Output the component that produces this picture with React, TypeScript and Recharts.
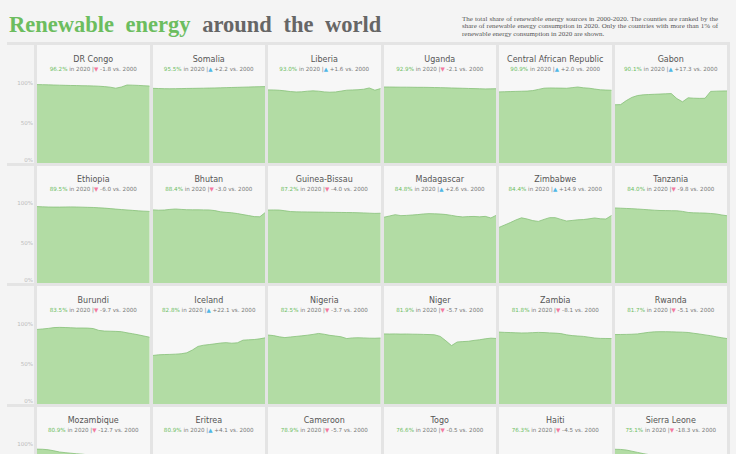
// Small multiples: renewable share of energy consumption 2000–2020, one
// area chart per country, laid out on a fixed 6-column grid.

import { Area, AreaChart, XAxis, YAxis } from "recharts";

const years = [
  2000, 2001, 2002, 2003, 2004, 2005, 2006, 2007, 2008, 2009, 2010,
  2011, 2012, 2013, 2014, 2015, 2016, 2017, 2018, 2019, 2020,
];

const countries = [
  "DR Congo", "Somalia", "Liberia", "Uganda", "Central African Republic", "Gabon",
  "Ethiopia", "Bhutan", "Guinea-Bissau", "Madagascar", "Zimbabwe", "Tanzania",
  "Burundi", "Iceland", "Nigeria", "Niger", "Zambia", "Rwanda",
  "Mozambique", "Eritrea", "Cameroon", "Togo", "Haiti", "Sierra Leone",
];

const drCongo = [98.0, 97.9, 97.7, 97.5, 97.3, 97.1, 96.9, 96.8, 96.6, 96.5, 96.3, 96.0, 95.5, 94.8, 93.5, 95.0, 97.5, 97.3, 97.0, 96.6, 96.2];
const somalia = [93.3, 93.1, 92.9, 92.8, 92.9, 93.0, 93.2, 93.3, 93.4, 93.5, 93.7, 93.8, 94.0, 94.2, 94.4, 94.6, 94.8, 95.0, 95.2, 95.4, 95.5];
const liberia = [91.4, 91.3, 90.9, 90.2, 89.3, 88.8, 89.0, 89.8, 90.2, 89.8, 88.9, 88.5, 88.8, 89.9, 91.0, 91.3, 91.6, 92.2, 93.8, 91.0, 93.0];
const uganda = [95.0, 95.0, 94.9, 94.8, 94.8, 94.7, 94.6, 94.6, 94.5, 94.3, 94.2, 94.0, 93.8, 93.6, 93.4, 93.2, 93.0, 92.8, 92.6, 92.7, 92.9];
const car = [88.9, 89.1, 89.3, 89.5, 89.7, 89.9, 90.5, 92.0, 93.5, 93.8, 93.7, 93.6, 93.4, 94.2, 95.0, 94.0, 93.5, 92.5, 91.5, 91.2, 90.9];
const gabon = [72.8, 73.0, 78.0, 82.0, 84.3, 85.2, 85.6, 85.9, 86.2, 86.5, 86.8, 80.5, 76.5, 81.5, 81.0, 80.8, 80.9, 89.5, 89.8, 90.0, 90.1];
const ethiopia = [95.5, 95.2, 95.0, 94.9, 94.9, 95.0, 95.1, 95.0, 94.8, 94.6, 94.4, 94.0, 93.6, 93.0, 92.4, 91.8, 91.3, 90.8, 90.2, 89.8, 89.5];
const bhutan = [91.4, 91.0, 91.2, 92.0, 92.5, 92.0, 91.6, 91.5, 91.5, 91.4, 91.3, 90.5, 89.0, 88.3, 87.8, 86.8, 85.5, 84.3, 83.0, 82.8, 88.4];
const guineaBissau = [91.2, 91.3, 91.2, 90.3, 89.3, 89.0, 88.9, 88.8, 88.7, 88.6, 88.5, 88.4, 88.3, 88.2, 88.1, 88.0, 87.8, 87.6, 87.3, 87.0, 87.2];
const madagascar = [82.2, 83.8, 85.4, 84.2, 84.5, 85.0, 85.5, 86.3, 86.7, 86.5, 86.2, 85.6, 84.5, 83.3, 82.6, 83.0, 83.2, 82.7, 83.3, 81.3, 84.8];
const zimbabwe = [69.5, 72.5, 75.5, 78.8, 81.5, 80.0, 78.0, 77.0, 79.5, 81.7, 81.7, 79.5, 77.5, 78.2, 79.0, 79.3, 80.2, 81.3, 80.3, 80.0, 84.4];
const tanzania = [93.8, 93.5, 93.2, 92.9, 92.5, 92.0, 91.5, 91.0, 90.6, 90.5, 90.4, 90.3, 89.5, 88.2, 87.7, 87.6, 87.4, 86.9, 86.3, 85.0, 84.0];
const burundi = [93.2, 93.8, 94.5, 95.5, 95.8, 95.6, 95.3, 95.0, 95.0, 94.9, 94.3, 92.0, 91.2, 91.0, 90.8, 90.4, 89.0, 87.8, 86.5, 85.0, 83.5];
const iceland = [60.7, 61.5, 61.8, 62.0, 62.3, 62.8, 64.0, 67.5, 72.0, 73.5, 74.3, 75.2, 76.2, 76.7, 76.0, 76.5, 79.8, 80.2, 80.6, 81.5, 82.8];
const nigeria = [86.2, 85.5, 84.0, 83.0, 83.8, 84.5, 85.2, 86.0, 87.0, 88.2, 87.2, 85.8, 85.0, 84.0, 81.8, 82.6, 82.8, 82.6, 82.3, 82.2, 82.5];
const niger = [87.6, 87.5, 87.6, 87.4, 87.5, 87.3, 87.2, 87.0, 86.8, 86.5, 84.5, 79.0, 73.0, 77.5, 78.0, 78.4, 79.5, 80.3, 81.5, 82.3, 81.9];
const zambia = [89.9, 89.5, 89.3, 89.0, 88.8, 88.9, 89.2, 89.5, 89.3, 88.9, 88.6, 88.0, 86.5, 85.5, 85.0, 84.5, 83.5, 82.5, 82.0, 81.9, 81.8];
const rwanda = [86.8, 86.9, 87.0, 87.2, 87.6, 88.6, 89.6, 90.2, 90.4, 90.4, 90.2, 90.0, 89.8, 89.4, 88.4, 87.5, 86.4, 85.4, 84.0, 82.8, 81.7];
const mozambique = [93.6, 93.4, 92.8, 91.5, 90.0, 89.2, 88.5, 87.8, 87.3, 86.5, 85.8, 85.0, 84.5, 84.0, 83.5, 83.0, 82.5, 82.0, 81.6, 81.2, 80.9];
const eritrea = [76.8, 77.5, 78.2, 78.0, 78.6, 79.0, 79.3, 79.8, 80.2, 80.5, 80.3, 80.0, 79.6, 79.8, 80.1, 80.4, 80.6, 80.8, 81.0, 80.7, 80.9];
const cameroon = [84.6, 84.2, 83.8, 83.3, 82.9, 82.5, 82.0, 81.6, 81.1, 80.6, 80.3, 80.0, 79.8, 79.5, 79.3, 79.0, 78.8, 78.7, 78.8, 78.9, 78.9];
const togo = [77.1, 77.5, 78.0, 78.4, 78.6, 79.0, 79.2, 79.0, 78.6, 78.0, 77.6, 77.3, 77.0, 76.8, 76.5, 76.3, 76.2, 76.4, 76.5, 76.6, 76.6];
const haiti = [80.8, 80.5, 80.2, 79.8, 79.5, 79.2, 79.0, 78.8, 78.5, 78.2, 78.0, 77.7, 77.5, 77.3, 77.0, 76.8, 76.6, 76.5, 76.4, 76.3, 76.3];
const sierraLeone = [93.4, 93.2, 92.5, 91.0, 89.5, 88.0, 86.8, 85.6, 84.5, 83.6, 82.8, 82.0, 81.2, 80.4, 79.6, 78.8, 78.0, 77.2, 76.4, 75.8, 75.1];

const shares = [
  drCongo, somalia, liberia, uganda, car, gabon,
  ethiopia, bhutan, guineaBissau, madagascar, zimbabwe, tanzania,
  burundi, iceland, nigeria, niger, zambia, rwanda,
  mozambique, eritrea, cameroon, togo, haiti, sierraLeone,
];

const yTicks = [0, 50, 100];

const PAGE = "#f4f4f4";
const PANEL = "#f7f7f7";
const SEP = "#e4e4e4";
const GREEN = "#6cbd5f";
const FILL = "#b2dca4";
const STROKE = "#86c079";
const UP = "#4fb6e6";
const DOWN = "#f37aa0";
const SANS = "'DejaVu Sans', Verdana, sans-serif";
const SERIF = "'Liberation Serif', 'Times New Roman', serif";

const COL_W = 112.5;
const ROW_H = 117.5;
const AXIS_W = 30;

// the 0% label sits a little above the baseline so the row separator doesn't eat it
function YTick(p: { x: number; y: number; payload: { value: number } }) {
  const v = p.payload.value;
  return (
    <text
      x={p.x}
      y={p.y}
      dy={v === 0 ? "-0.1em" : "0.35em"}
      textAnchor="end"
      fill="#bbb"
      fontSize={5.5}
      fontFamily={SANS}
    >
      {`${v}%`}
    </text>
  );
}

function Panel(props: { name: string; values: number[]; withAxis: boolean }) {
  const { name, values, withAxis } = props;
  const data = years.map((year, i) => ({ year, share: values[i] }));
  const last = values[values.length - 1];
  const diff = Math.round((last - values[0]) * 10) / 10;
  const up = diff >= 0;

  return (
    <div style={{ position: "relative", background: PANEL, height: ROW_H }}>
      <div
        style={{
          position: "absolute", top: 9.5, left: 0, width: "100%", textAlign: "center",
          fontFamily: SANS, fontSize: 8, lineHeight: "10px", color: "#555", whiteSpace: "nowrap",
        }}
      >
        {name}
      </div>
      <div
        style={{
          position: "absolute", top: 20.5, left: 0, width: "100%", textAlign: "center",
          fontFamily: SANS, fontSize: 5.6, lineHeight: "7px", color: "#777", whiteSpace: "nowrap",
        }}
      >
        <span style={{ color: GREEN }}>{last.toFixed(1)}%</span> in 2020 |
        <span style={{ color: up ? UP : DOWN }}>{up ? "▲" : "▼"}</span>{" "}
        {up ? "+" : ""}{diff.toFixed(1)} vs. 2000
      </div>
      <div style={{ position: "absolute", top: 32.5, left: withAxis ? -AXIS_W : 0 }}>
        <AreaChart
          width={COL_W + (withAxis ? AXIS_W : 0)}
          height={85}
          data={data}
          margin={{ top: 5, right: 0, bottom: 0, left: 0 }}
        >
          <XAxis dataKey="year" hide />
          <YAxis
            domain={[0, 100]}
            ticks={yTicks}
            interval={0}
            hide={!withAxis}
            width={AXIS_W}
            axisLine={false}
            tickLine={false}
            tickSize={0}
            tickMargin={4}
            tick={YTick}
          />
          <Area
            type="linear"
            dataKey="share"
            fill={FILL}
            fillOpacity={1}
            stroke={STROKE}
            strokeWidth={0.8}
            isAnimationActive={false}
          />
        </AreaChart>
      </div>
    </div>
  );
}

export default function App() {
  const rows = [0, 1, 2, 3];
  return (
    <div style={{ position: "relative", width: 736, height: 454, overflow: "hidden", background: PAGE }}>
      <style>{"body{margin:0}"}</style>
      <div
        style={{
          position: "absolute", left: 9, top: 12, fontFamily: SERIF, fontWeight: "bold",
          fontSize: 22.5, lineHeight: "26px", wordSpacing: 6, whiteSpace: "nowrap",
        }}
      >
        <span style={{ color: GREEN }}>Renewable energy</span>{" "}
        <span style={{ color: "#666" }}>around the world</span>
      </div>
      <div
        style={{
          position: "absolute", left: 462, top: 15.5, width: 256, fontFamily: SERIF,
          fontSize: 7, lineHeight: "7.5px", color: "#555", textAlign: "justify",
        }}
      >
        The total share of renewable energy sources in 2000-2020. The counties are ranked by the
        share of renewable energy consumption in 2020. Only the countries with more than 1% of
        renewable energy consumption in 2020 are shown.
      </div>
      <div
        style={{
          position: "absolute", left: 7, top: 42, display: "grid",
          gridTemplateColumns: `27px repeat(6, ${COL_W}px)`, gridAutoRows: `${ROW_H}px`,
          columnGap: 3, rowGap: 3, paddingTop: 3, paddingRight: 3, background: SEP,
        }}
      >
        {rows.map((r) => [
          <div key={`axis-${r}`} style={{ background: PAGE }} />,
          ...countries.slice(r * 6, r * 6 + 6).map((name, c) => (
            <Panel key={name} name={name} values={shares[r * 6 + c]} withAxis={c === 0} />
          )),
        ])}
      </div>
    </div>
  );
}
